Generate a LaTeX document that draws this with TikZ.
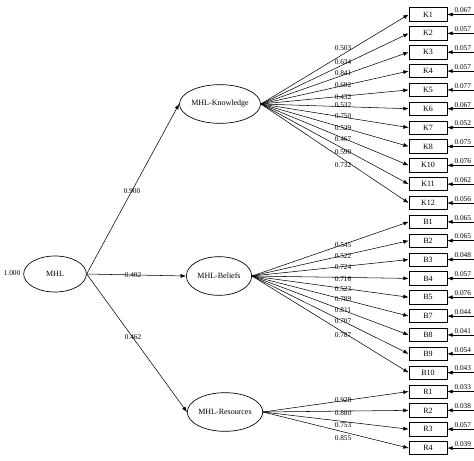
\documentclass[tikz,border=0pt]{standalone}
\usepackage{fontspec}
\setmainfont{Liberation Serif}
\usetikzlibrary{arrows.meta,shapes.geometric}
\begin{document}
\begin{tikzpicture}[x=0.75pt,y=-0.75pt,
  lat/.style={ellipse,draw,line width=0.5pt,minimum width=49pt,minimum height=29pt,inner sep=0pt,font=\fontsize{6}{7}\selectfont},
  obs/.style={rectangle,draw,line width=0.5pt,minimum width=28.5pt,minimum height=10pt,inner sep=0pt,font=\fontsize{6}{7}\selectfont},
  arr/.style={-{Latex[length=4pt,width=3pt]},line width=0.4pt},
  lbl/.style={font=\fontsize{5.5}{6}\selectfont,inner sep=0.5pt}]
\useasboundingbox (0,0) rectangle (474,460);
\node[lat,minimum width=47pt,minimum height=27pt] (M) at (55,274) {MHL};
\node[lbl] (var) at (12,273) {1.000};
\node[lat] (KN) at (220,104) {MHL-Knowledge};
\node[lat] (BE) at (219,276) {MHL-Beliefs};
\node[lat] (RE) at (225,412) {MHL-Resources};
\draw[arr] (M.east) -- (KN.west);
\draw[arr] (M.east) -- (BE.west);
\draw[arr] (M.east) -- (RE.west);
\node[lbl] at (132,191) {0.900};
\node[lbl] at (133,275) {0.402};
\node[lbl] at (133,337) {0.462};
\foreach \n/\i/\e in {K1/0/0.067,K2/1/0.057,K3/2/0.057,K4/3/0.057,K5/4/0.077,K6/5/0.067,K7/6/0.052,K8/7/0.075,K10/8/0.076,K11/9/0.062,K12/10/0.056,B1/11/0.065,B2/12/0.065,B3/13/0.048,B4/14/0.057,B5/15/0.076,B7/16/0.044,B8/17/0.041,B9/18/0.054,B10/19/0.043,R1/20/0.033,R2/21/0.038,R3/22/0.057,R4/23/0.039}{
  \pgfmathsetmacro\yy{14.5+18.85*\i}
  \node[obs] (\n) at (428,\yy) {\n};
  \coordinate (e\n) at (474,\yy);
  \draw[arr] (e\n) -- (\n.east) node[lbl,pos=0.42,above=0.5pt] {\e};
}
\foreach \l/\n/\v/\ly in {KN/K1/0.503/48,KN/K2/0.634/62,KN/K3/0.841/73,KN/K4/0.692/85,KN/K5/0.432/97,KN/K6/0.532/105,KN/K7/0.750/116,KN/K8/0.529/128,KN/K10/0.467/139,KN/K11/0.590/152,KN/K12/0.732/165,
  BE/B1/0.545/245,BE/B2/0.522/256,BE/B3/0.724/267,BE/B4/0.716/279,BE/B5/0.523/289,BE/B7/0.789/299,BE/B8/0.811/310,BE/B9/0.707/321,BE/B10/0.787/335,
  RE/R1/0.928/400,RE/R2/0.880/413,RE/R3/0.753/425,RE/R4/0.855/438}{
  \draw[arr] (\l.east) -- (\n.west);
  \node[lbl] at (343,\ly) {\v};
}
\end{tikzpicture}
\end{document}
